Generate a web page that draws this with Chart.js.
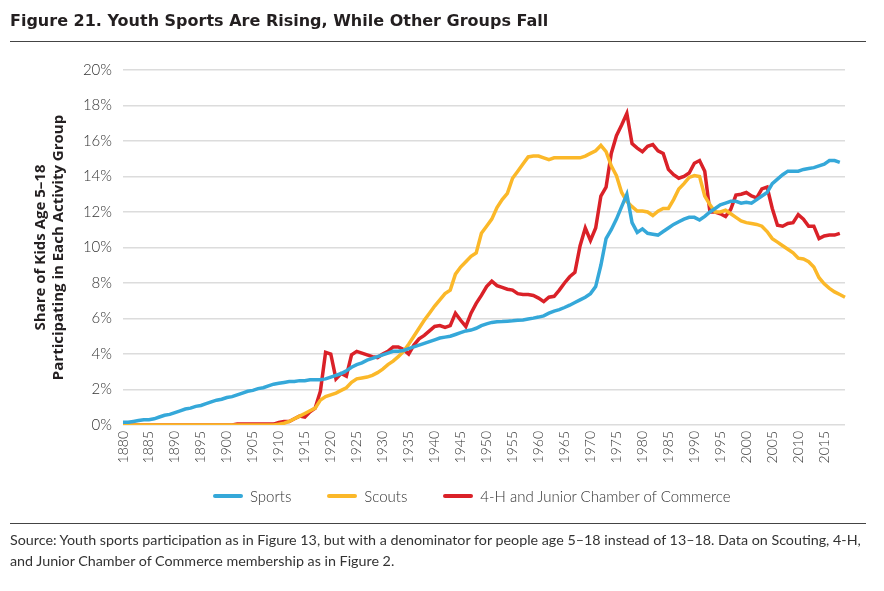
<!DOCTYPE html>
<html>
<head>
<meta charset="utf-8">
<title>Figure 21</title>
<script src="https://cdn.jsdelivr.net/npm/chart.js@4.4.1/dist/chart.umd.min.js"></script>
<style>
  html, body { margin: 0; padding: 0; background: #fff; }
  body { position: relative; width: 884px; height: 591px; overflow: hidden; font-family: Lato, "Open Sans", sans-serif; color: #231f20; }
  #chartBox { position: absolute; left: 0; top: 0; width: 884px; height: 591px; }
  #title { position: absolute; left: 10px; top: 11px; font-family: "DejaVu Sans", sans-serif; font-weight: 700; font-size: 16px; line-height: 20px; }
  .rule { position: absolute; left: 10px; width: 856px; border-top: 1.5px solid #444; }
  #legend { position: absolute; left: 213px; top: 486px; height: 20px; display: flex; align-items: center; font-size: 15px; font-weight: 300; color: #333; }
  #legend .item { display: flex; align-items: center; margin-right: 36px; }
  #legend .swatch { width: 30px; height: 4px; border-radius: 2px; margin-right: 7px; }
  #source { position: absolute; left: 10px; top: 529px; width: 870px; font-size: 14.3px; line-height: 21px; color: #333; }
  .nb { white-space: nowrap; }
</style>
</head>
<body>
<div id="chartBox"><canvas id="chart"></canvas></div>
<div id="title">Figure 21. Youth Sports Are Rising, While Other Groups Fall</div>
<div class="rule" style="top:41px"></div>
<div id="legend"></div>
<div class="rule" style="top:523px"></div>
<div id="source">Source: Youth sports participation as in Figure 13, but with a denominator for people age 5–18 instead of 13–18. Data on Scouting, <span class="nb">4-H,</span><br>and Junior Chamber of Commerce membership as in Figure 2.</div>
<script>
// categories: one per year
const years = Array.from({length: 140}, (_, i) => String(1880 + i));
const yearTicks = ['1880','1885','1890','1895','1900','1905','1910','1915','1920','1925','1930','1935','1940','1945','1950','1955','1960','1965','1970','1975','1980','1985','1990','1995','2000','2005','2010','2015'];

// share of kids age 5-18, percent
const sports = [
  0.15, 0.15, 0.2, 0.25, 0.3, 0.3, 0.35, 0.45, 0.55, 0.6,
  0.7, 0.8, 0.9, 0.95, 1.05, 1.1, 1.2, 1.3, 1.4, 1.45,
  1.55, 1.6, 1.7, 1.8, 1.9, 1.95, 2.05, 2.1, 2.2, 2.3,
  2.35, 2.4, 2.45, 2.45, 2.5, 2.5, 2.55, 2.55, 2.55, 2.6,
  2.7, 2.8, 2.9, 3.05, 3.25, 3.4, 3.5, 3.65, 3.75, 3.85,
  3.95, 4.05, 4.15, 4.15, 4.2, 4.3, 4.4, 4.5, 4.6, 4.7,
  4.8, 4.9, 4.95, 5.0, 5.1, 5.2, 5.3, 5.35, 5.45, 5.6,
  5.7, 5.78, 5.82, 5.83, 5.85, 5.87, 5.9, 5.92, 5.97, 6.02,
  6.08, 6.15, 6.3, 6.42, 6.5, 6.62, 6.75, 6.9, 7.05, 7.2,
  7.4, 7.8, 9.0, 10.5, 11.0, 11.6, 12.3, 13.0, 11.4, 10.85,
  11.05, 10.8, 10.75, 10.7, 10.9, 11.1, 11.3, 11.45, 11.6, 11.7,
  11.7, 11.55, 11.75, 12.0, 12.2, 12.4, 12.5, 12.6, 12.6, 12.5,
  12.55, 12.5, 12.7, 12.9, 13.1, 13.6, 13.85, 14.1, 14.3, 14.3,
  14.3, 14.4, 14.45, 14.5, 14.6, 14.7, 14.9, 14.9, 14.8, null
];

const scouts = [
  0, 0, 0, 0, 0, 0, 0, 0, 0, 0,
  0, 0, 0, 0, 0, 0, 0, 0, 0, 0,
  0, 0, 0, 0, 0, 0, 0, 0, 0, 0,
  0.05, 0.1, 0.2, 0.35, 0.5, 0.65, 0.8, 0.95, 1.4, 1.6,
  1.7, 1.8, 1.95, 2.1, 2.4, 2.6, 2.65, 2.7, 2.8, 2.95,
  3.15, 3.4, 3.6, 3.85, 4.15, 4.55, 5.0, 5.45, 5.9, 6.3,
  6.7, 7.05, 7.4, 7.6, 8.5, 8.9, 9.2, 9.5, 9.7, 10.8,
  11.2, 11.6, 12.25, 12.7, 13.05, 13.9, 14.3, 14.7, 15.1, 15.15,
  15.15, 15.05, 14.95, 15.05, 15.05, 15.05, 15.05, 15.05, 15.05, 15.15,
  15.3, 15.45, 15.75, 15.4, 14.6, 14.05, 13.1, 12.6, 12.3, 12.05,
  12.05, 12.0, 11.8, 12.05, 12.2, 12.2, 12.7, 13.3, 13.6, 13.95,
  14.05, 14.0, 12.9, 12.4, 12.0, 12.0, 12.1, 11.9, 11.7, 11.5,
  11.4, 11.35, 11.3, 11.2, 10.9, 10.5, 10.3, 10.1, 9.9, 9.7,
  9.4, 9.35, 9.2, 8.9, 8.3, 7.95, 7.7, 7.5, 7.35, 7.2
];

const fourH = [
  0, 0, 0, 0, 0, 0, 0, 0, 0, 0,
  0, 0, 0, 0, 0, 0, 0, 0, 0, 0,
  0, 0, 0.05, 0.05, 0.05, 0.05, 0.05, 0.05, 0.05, 0.05,
  0.15, 0.2, 0.2, 0.35, 0.5, 0.45, 0.75, 0.95, 1.9, 4.1,
  4.0, 2.6, 2.9, 2.75, 3.95, 4.15, 4.05, 3.95, 3.85, 3.8,
  4.0, 4.15, 4.4, 4.4, 4.25, 4.0, 4.5, 4.85, 5.05, 5.3,
  5.55, 5.6, 5.5, 5.6, 6.3, 5.9, 5.55, 6.3, 6.85, 7.3,
  7.8, 8.1, 7.85, 7.75, 7.65, 7.6, 7.4, 7.35, 7.35, 7.3,
  7.15, 6.95, 7.2, 7.25, 7.6, 8.0, 8.35, 8.6, 10.1, 11.1,
  10.4, 11.1, 12.9, 13.4, 15.3, 16.3, 16.9, 17.55, 15.85, 15.6,
  15.4, 15.7, 15.8, 15.45, 15.3, 14.4, 14.1, 13.9, 14.0, 14.2,
  14.75, 14.9, 14.3, 12.0, 12.0, 11.9, 11.75, 12.15, 12.95, 13.0,
  13.1, 12.9, 12.8, 13.3, 13.4, 12.2, 11.25, 11.2, 11.35, 11.4,
  11.85, 11.6, 11.2, 11.2, 10.5, 10.65, 10.7, 10.7, 10.8, null
];

const seriesNames = ['Sports', 'Scouts', '4-H and Junior Chamber of Commerce'];
const seriesColors = ['#35a8d9', '#fbb829', '#da2128'];

const textColor = '#333';

function makeDataset(i, values) {
    return {
        label: seriesNames[i],
        data: values,
        borderColor: seriesColors[i],
        backgroundColor: seriesColors[i],
        borderWidth: 3.5,
        pointRadius: 0,
        tension: 0
    };
}

// Legend drawn as plain html so the spacing can follow the original
const legendEl = document.getElementById('legend');
seriesNames.forEach(function(name, i) {
    const item = document.createElement('div');
    item.className = 'item';
    const swatch = document.createElement('span');
    swatch.className = 'swatch';
    swatch.style.background = seriesColors[i];
    const label = document.createElement('span');
    label.textContent = name;
    item.appendChild(swatch);
    item.appendChild(label);
    legendEl.appendChild(item);
});

const ctx = document.getElementById('chart').getContext('2d');

new Chart(ctx, {
    type: 'line',
    data: {
        labels: years,
        datasets: [
            makeDataset(0, sports),
            makeDataset(1, scouts),
            makeDataset(2, fourH)
        ]
    },
    options: {
        responsive: true,
        maintainAspectRatio: false,
        animation: false,
        layout: {
            padding: { top: 70, right: 39, left: 0, bottom: 125 }
        },
        plugins: {
            legend: { display: false },
            tooltip: { enabled: false }
        },
        scales: {
            x: {
                type: 'category',
                offset: false,
                grid: { display: false, drawTicks: false },
                border: { display: false },
                ticks: {
                    autoSkip: false,
                    maxRotation: 90,
                    minRotation: 90,
                    padding: 6,
                    color: textColor,
                    font: { family: 'Lato', size: 14, weight: '300' },
                    callback: function(value, index) {
                        const label = years[index];
                        return yearTicks.includes(label) ? label : '';
                    }
                },
                afterFit: function(scale) {
                    scale.height = 41;
                }
            },
            y: {
                min: 0,
                max: 20,
                grid: { color: '#dcdcdc', lineWidth: 1.5, drawTicks: false },
                border: { display: false },
                ticks: {
                    stepSize: 2,
                    padding: 11,
                    color: textColor,
                    font: { family: 'Lato', size: 15, weight: '300' },
                    callback: function(value) { return value + '%'; }
                },
                title: {
                    display: true,
                    text: ['Share of Kids Age 5–18', 'Participating in Each Activity Group'],
                    color: '#231f20',
                    font: { family: 'Open Sans', size: 15, weight: 'bold', lineHeight: 1.25 },
                    padding: { top: 31, bottom: 0 }
                },
                afterFit: function(scale) {
                    scale.width = 123;
                }
            }
        }
    }
});
</script>
</body>
</html>
